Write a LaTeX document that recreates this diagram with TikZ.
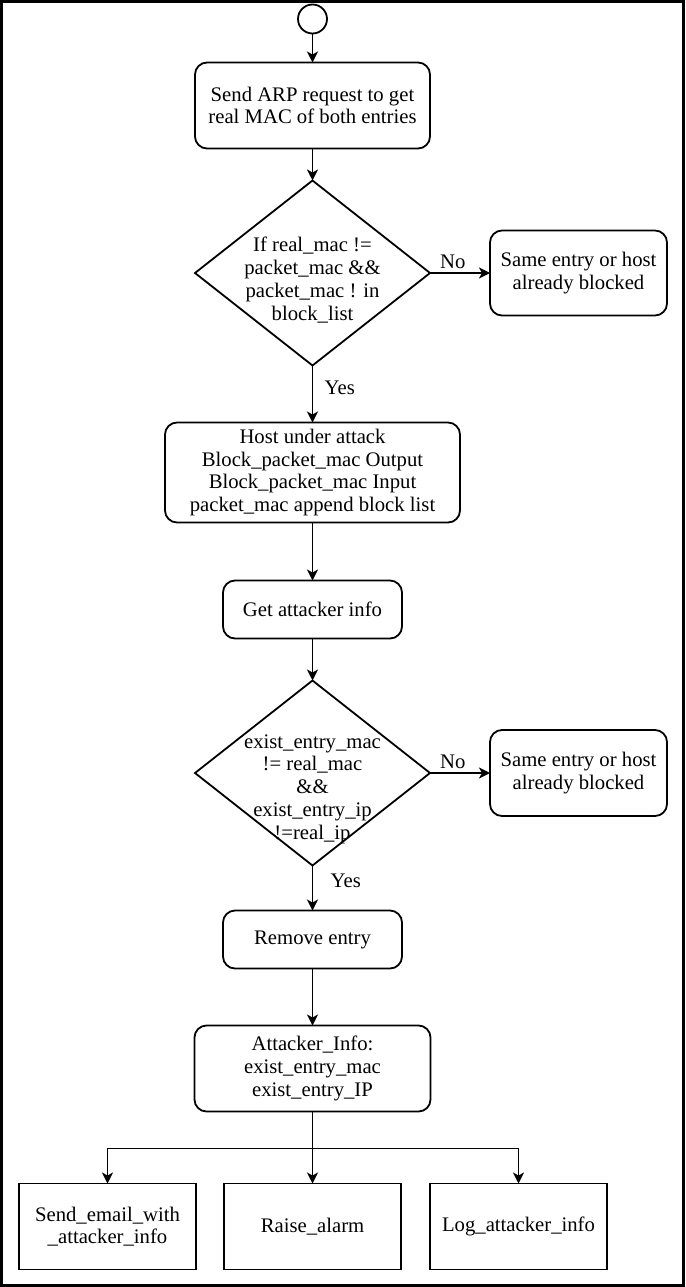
\documentclass[tikz,border=0pt]{standalone}
\usepackage{fontspec}
\setmainfont{Liberation Serif}
\usetikzlibrary{positioning,arrows.meta,shapes.geometric}

\begin{document}
\begin{tikzpicture}[x=1pt,y=-1pt,font=\fontsize{20.7pt}{22.7pt}\selectfont,
  box/.style={draw,line width=1.8pt,rounded corners=12pt,align=center,inner sep=0pt,outer sep=0pt},
  sqbox/.style={draw,line width=1.8pt,align=center,inner sep=0pt,outer sep=0pt,minimum width=177pt,minimum height=86pt},
  dec/.style={draw,line width=1.8pt,diamond,inner sep=0pt,outer sep=0pt,minimum width=235pt,minimum height=185pt},
  line/.style={-{Stealth[length=11pt,width=11pt,inset=3pt]},line width=1.8pt}]
\useasboundingbox (0,0) rectangle (685,1287);
\draw[line width=3pt] (1.5,1.5) rectangle (683.5,1285.5);
\node[draw,circle,line width=1.8pt,minimum size=29pt,inner sep=0pt,outer sep=0pt] (start) at (312.5,19) {};
\node[box,below=29pt of start,minimum width=235pt,minimum height=86pt] (arp) {Send ARP request to get\\real MAC of both entries};
\node[dec,below=32pt of arp,label={[align=center,yshift=-7pt]center:If real\_mac !=\\packet\_mac \&\&\\packet\_mac ! in\\block\_list}] (chk1) {};
\node[box,right=60pt of chk1,minimum width=177pt,minimum height=85pt] (same1) {Same entry or host\\already blocked};
\node[box,below=57pt of chk1,minimum width=295pt,minimum height=100pt] (host) {Host under attack\\Block\_packet\_mac Output\\Block\_packet\_mac Input\\packet\_mac append block list};
\node[box,below=58pt of host,minimum width=179pt,minimum height=58pt] (get) {Get attacker info};
\node[dec,below=42pt of get,label={[align=center,yshift=-16pt]center:exist\_entry\_mac\\!= real\_mac\\\&\&\\exist\_entry\_ip\\!=real\_ip}] (chk2) {};
\node[box,right=60pt of chk2,minimum width=177pt,minimum height=86pt] (same2) {Same entry or host\\already blocked};
\node[box,below=45pt of chk2,minimum width=179pt,minimum height=58pt] (rem) {Remove entry};
\node[box,below=57pt of rem,minimum width=236pt,minimum height=86pt] (info) {Attacker\_Info:\\exist\_entry\_mac\\exist\_entry\_IP};
\node[sqbox,below=72pt of info] (alarm) {Raise\_alarm};
\node[sqbox,left=28pt of alarm] (mail) {Send\_email\_with\\\_attacker\_info};
\node[sqbox,right=29pt of alarm] (log) {Log\_attacker\_info};
\coordinate[below=37pt of info] (fork);
\draw[line] (start)--(arp);\draw[line] (arp)--(chk1);
\draw[line] (chk1)--node[pos=0.38,above]{No}(same1);\draw[line] (chk1)--node[pos=0.4,right=8pt]{Yes}(host);
\draw[line] (host)--(get);\draw[line] (get)--(chk2);
\draw[line] (chk2)--node[pos=0.38,above]{No}(same2);\draw[line] (chk2)--node[pos=0.33,right=14pt]{Yes}(rem);
\draw[line] (rem)--(info);\draw[line] (info)--(alarm);\draw[line] (fork)-|(mail);\draw[line] (fork)-|(log);
\end{tikzpicture}
\end{document}
